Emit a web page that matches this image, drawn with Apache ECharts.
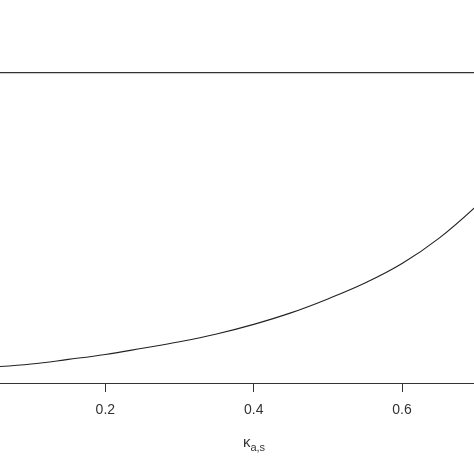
<!DOCTYPE html>
<html>
<head>
<meta charset="utf-8">
<script src="https://cdn.jsdelivr.net/npm/echarts@6/dist/echarts.min.js"></script>
<style>
  html, body { margin: 0; padding: 0; background: #fff; }
  #chart { width: 474px; height: 474px; }
</style>
</head>
<body>
<div id="chart"></div>
<script>
// kappa values along the x axis
const kappa = [0.058, 0.1, 0.15, 0.2, 0.25, 0.3, 0.35, 0.4, 0.45, 0.5, 0.55, 0.6, 0.65, 0.7]
// curve values (arbitrary units, reference line = 1)
const curveValues = [0.053, 0.061, 0.076, 0.092, 0.112, 0.133, 0.158, 0.189, 0.226, 0.271, 0.322, 0.385, 0.467, 0.570]
// horizontal reference line
const refX = [0, 0.8]
const refY = [1, 1]
const xTicks = [0.2, 0.4, 0.6]

const chart = echarts.init(document.getElementById('chart'))

const option = {
  backgroundColor: '#fff',
  animation: false,
  grid: { left: 0, right: 0, top: 10.6, bottom: 91, containLabel: false },
  xAxis: {
    type: 'value',
    min: 0.058,
    max: 0.697,
    name: '{k|κ}{s|a,s}',
    nameLocation: 'middle',
    nameGap: 52,
    nameTextStyle: {
      padding: [0, 0, 0, 34],
      rich: {
        k: { fontFamily: 'Liberation Sans', fontSize: 15, color: '#333', verticalAlign: 'bottom', padding: [0, 0, 3, 0] },
        s: { fontFamily: 'Liberation Sans', fontSize: 11, color: '#333', verticalAlign: 'bottom' }
      }
    },
    axisLine: { show: true, lineStyle: { color: '#333', width: 1 } },
    axisTick: { show: true, length: 9, customValues: xTicks, lineStyle: { color: '#333', width: 1 } },
    axisLabel: {
      margin: 20,
      fontFamily: 'Liberation Sans',
      fontSize: 14,
      color: '#333',
      customValues: xTicks,
      formatter: v => String(Math.round(v * 10) / 10)
    },
    splitLine: { show: false }
  },
  yAxis: {
    type: 'value',
    min: 0,
    max: 1.2,
    show: false
  },
  series: [
    {
      type: 'line',
      data: refX.map((x, i) => [x, refY[i]]),
      symbol: 'none',
      lineStyle: { color: '#333', width: 1.3 },
      silent: true
    },
    {
      type: 'line',
      data: kappa.map((x, i) => [x, curveValues[i]]),
      symbol: 'none',
      smooth: 0.4,
      lineStyle: { color: '#222', width: 1.1 },
      silent: true
    }
  ]
}

chart.setOption(option)
</script>
</body>
</html>
